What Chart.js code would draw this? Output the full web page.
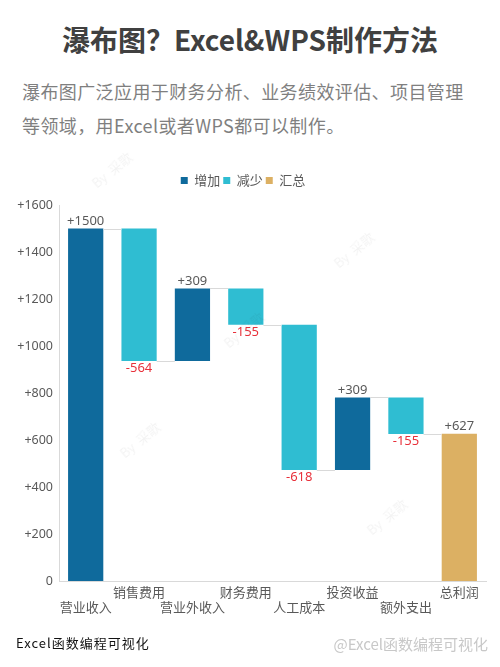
<!DOCTYPE html>
<html>
<head>
<meta charset="utf-8">
<script src="https://cdn.jsdelivr.net/npm/chart.js@4.4.1/dist/chart.umd.min.js"></script>
<style>
    body { margin: 0; background: #fff; font-family: "Noto Sans CJK SC", "Noto Sans", sans-serif; }
    #page { position: relative; width: 500px; height: 667px; overflow: hidden; }
    #titulo { position: absolute; top: 19px; left: 0; width: 500px; text-align: center; font-size: 28px; font-weight: bold; color: #404040; }
    #subtitulo { position: absolute; top: 74px; left: 22px; width: 450px; font-size: 18px; line-height: 34px; color: #7f7f7f; letter-spacing: 0.4px; }
    #grafico { position: absolute; top: 165px; left: 0; width: 500px; height: 470px; }
    #pie { position: absolute; top: 633px; left: 16px; font-size: 13px; color: #111; letter-spacing: 1px; }
    #marca { position: absolute; top: 633px; right: 12px; font-size: 15px; color: #c8c8c8; }
    .agua { position: absolute; font-size: 13px; color: rgba(0, 0, 0, 0.05); transform: rotate(-40deg); white-space: nowrap; pointer-events: none; }
</style>
</head>
<body>
<div id="page">
    <div id="titulo">瀑布图？Excel&amp;WPS制作方法</div>
    <div id="subtitulo">瀑布图广泛应用于财务分析、业务绩效评估、项目管理等领域，用Excel或者WPS都可以制作。</div>
    <div id="grafico"><canvas id="chart"></canvas></div>
    <div class="agua" style="left:88px; top:160px;">By&nbsp;&nbsp;采歌</div>
    <div class="agua" style="left:330px; top:240px;">By&nbsp;&nbsp;采歌</div>
    <div class="agua" style="left:220px; top:320px;">By&nbsp;&nbsp;采歌</div>
    <div class="agua" style="left:116px; top:430px;">By&nbsp;&nbsp;采歌</div>
    <div class="agua" style="left:363px; top:507px;">By&nbsp;&nbsp;采歌</div>
    <div id="pie">Excel函数编程可视化</div>
    <div id="marca">@Excel函数编程可视化</div>
</div>
<script>
var categorias = ['营业收入', '销售费用', '营业外收入', '财务费用', '人工成本', '投资收益', '额外支出', '总利润'];
var valores = [1500, -564, 309, -155, -618, 309, -155, 627];
var esTotal = [false, false, false, false, false, false, false, true];
var ticksY = [0, 200, 400, 600, 800, 1000, 1200, 1400, 1600];

var colorSube = '#0f6a9c';
var colorBaja = '#2fbdd2';
var colorTotal = '#dcb063';

// rangos flotantes de cada barra
var rangos = [];
var acumulado = 0;
for (var i = 0; i < valores.length; i++) {
    if (esTotal[i]) {
        rangos.push([0, valores[i]]);
        acumulado = valores[i];
    } else {
        rangos.push([acumulado, acumulado + valores[i]]);
        acumulado += valores[i];
    }
}

var datosSube = rangos.map(function (r, i) { return (!esTotal[i] && valores[i] > 0) ? r : null; });
var datosBaja = rangos.map(function (r, i) { return (!esTotal[i] && valores[i] < 0) ? r : null; });
var datosTotal = rangos.map(function (r, i) { return esTotal[i] ? r : null; });

// etiquetas escalonadas en dos filas
var etiquetasX = categorias.map(function (c, i) { return i % 2 === 0 ? ['', c] : [c, '']; });

// espacio extra bajo la leyenda
var leyendaPlugin = {
    id: 'leyendaAlto',
    beforeInit: function (chart) {
        var fit = chart.legend.fit;
        chart.legend.fit = function () {
            fit.bind(chart.legend)();
            this.height += 8;
        };
    }
};

var etiquetasPlugin = {
    id: 'etiquetas',
    afterDatasetsDraw: function (chart) {
        var ctx = chart.ctx;
        var x = chart.scales.x;
        var y = chart.scales.y;
        var ancho = 0;
        chart.data.datasets.forEach(function (ds, d) {
            chart.getDatasetMeta(d).data.forEach(function (el, i) {
                if (ds.data[i] !== null) ancho = el.width;
            });
        });
        ctx.save();
        // lineas de conexion
        ctx.strokeStyle = '#d9d9d9';
        ctx.lineWidth = 1;
        for (var i = 0; i < rangos.length - 1; i++) {
            var nivel = y.getPixelForValue(rangos[i][1]);
            var x1 = x.getPixelForValue(i) + ancho / 2;
            var x2 = x.getPixelForValue(i + 1) - ancho / 2;
            ctx.beginPath();
            ctx.moveTo(x1, Math.round(nivel) + 0.5);
            ctx.lineTo(x2, Math.round(nivel) + 0.5);
            ctx.stroke();
        }
        ctx.font = '13px "Noto Sans", "Noto Sans CJK SC", sans-serif';
        ctx.textAlign = 'center';
        for (var i = 0; i < rangos.length; i++) {
            var cx = x.getPixelForValue(i);
            if (valores[i] > 0) {
                ctx.fillStyle = '#595959';
                ctx.textBaseline = 'bottom';
                ctx.fillText('+' + valores[i], cx, y.getPixelForValue(rangos[i][1]) - 1);
            } else {
                ctx.fillStyle = '#e8303a';
                ctx.textBaseline = 'top';
                ctx.fillText(String(valores[i]), cx, y.getPixelForValue(rangos[i][1]) + 1);
            }
        }
        ctx.restore();
    }
};

var ctx = document.getElementById('chart').getContext('2d');
window.chart = new Chart(ctx, {
    type: 'bar',
    data: {
        labels: etiquetasX,
        datasets: [
            { label: '增加', data: datosSube, backgroundColor: colorSube, grouped: false },
            { label: '减少', data: datosBaja, backgroundColor: colorBaja, grouped: false },
            { label: '汇总', data: datosTotal, backgroundColor: colorTotal, grouped: false }
        ]
    },
    options: {
        responsive: true,
        maintainAspectRatio: false,
        animation: false,
        layout: { padding: { top: 6, right: 14, left: 0, bottom: 0 } },
        datasets: { bar: { categoryPercentage: 1, barPercentage: 0.66 } },
        plugins: {
            legend: {
                position: 'top',
                labels: {
                    boxWidth: 7,
                    boxHeight: 7,
                    padding: 3,
                    color: '#595959',
                    font: { size: 13, family: '"Noto Sans CJK SC", "Noto Sans", sans-serif' }
                }
            },
            tooltip: { enabled: false }
        },
        scales: {
            x: {
                grid: { display: false, drawTicks: false },
                border: { color: '#d9d9d9' },
                ticks: {
                    color: '#595959',
                    maxRotation: 0,
                    autoSkip: false,
                    padding: 4,
                    font: { size: 13, family: '"Noto Sans CJK SC", "Noto Sans", sans-serif', lineHeight: 1.15 }
                },
                afterFit: function (scale) { scale.height = 54; }
            },
            y: {
                min: ticksY[0],
                max: ticksY[ticksY.length - 1],
                grid: { display: false, drawTicks: false },
                border: { color: '#d9d9d9' },
                afterBuildTicks: function (scale) {
                    scale.ticks = ticksY.map(function (v) { return { value: v }; });
                },
                ticks: {
                    color: '#595959',
                    padding: 6,
                    font: { size: 12.5, family: '"Noto Sans", "Noto Sans CJK SC", sans-serif' },
                    callback: function (v) { return v === 0 ? '0' : '+' + v; }
                },
                afterFit: function (scale) { scale.width = 59; }
            }
        }
    },
    plugins: [leyendaPlugin, etiquetasPlugin]
});
</script>
</body>
</html>
